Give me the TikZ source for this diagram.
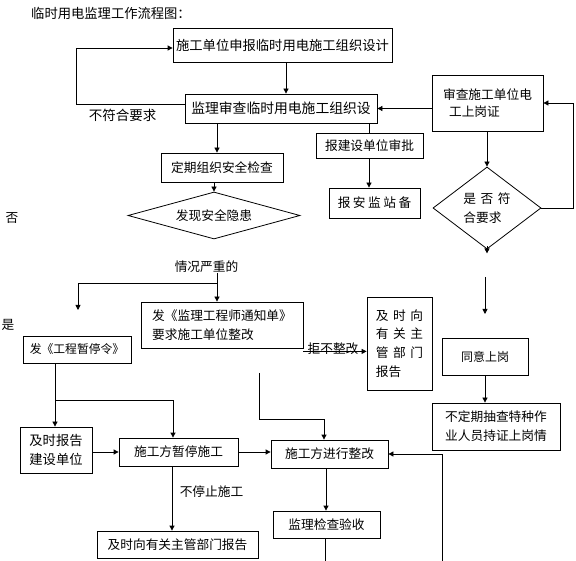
\documentclass[tikz,border=0pt]{standalone}
\usepackage{fontspec}
\setmainfont{Noto Sans CJK SC}
\usetikzlibrary{arrows.meta,shapes.geometric}
\newcommand\gp{\hspace{4.5pt}}
\begin{document}
\begin{tikzpicture}[x=1pt,y=-1pt,
  every node/.style={font=\fontsize{12.7}{17}\selectfont, inner sep=0pt},
  box/.style={draw, line width=0.8pt, align=center},
  dia/.style={draw, diamond, line width=0.8pt, align=left},
  arr/.style={line width=0.8pt, -{Triangle[length=5pt,width=5pt]}},
  ln/.style={line width=0.8pt}]
\useasboundingbox (0,0) rectangle (576,561);
\fill[white] (0,0) rectangle (576,561);
% title
\node[anchor=west, font=\fontsize{13.3}{16}\selectfont] (title) at (31,13) {临时用电监理工作流程图：};
% boxes
\node[box, minimum width=219, minimum height=34, font=\fontsize{13.3}{17}\selectfont] (b1) at (282.5,45) {施工单位申报临时用电施工组织设计};
\node[box, minimum width=192, minimum height=29, font=\fontsize{13.8}{17}\selectfont] (b2) at (281,108.5) {监理审查临时用电施工组织设};
\node[box, minimum width=122, minimum height=29] (b3) at (222,167.5) {定期组织安全检查};
\node[dia, minimum width=172, minimum height=47, aspect=3.66] (d1) at (214,215.5) {发现安全隐患};
\node[box, minimum width=107, minimum height=25] (b4) at (369.5,145.5) {报建设单位审批};
\node[box, minimum width=91, minimum height=30] (b5) at (374.5,203) {报\hspace{2.5pt}安\hspace{2.5pt}监\hspace{2.5pt}站\hspace{2.5pt}备};
\node[box, minimum width=111, minimum height=56, align=left] (b6) at (487.5,103) {审查施工单位电\\\hspace*{6pt}工上岗证};
\node[dia, minimum width=108, minimum height=82, aspect=1.3, font=\fontsize{12.7}{19}\selectfont] (d2) at (487,208) {是\gp{}否\gp{}符\\合要求};
\node[box, minimum width=162, minimum height=46, align=left, font=\fontsize{12.7}{19}\selectfont] (b7) at (222,325) {发《监理工程师通知单》\\要求施工单位整改};
\node[box, minimum width=65, minimum height=93, align=left, font=\fontsize{12.7}{18.7}\selectfont] (b8) at (399.5,343.5) {及\gp{}时\gp{}向\\有\gp{}关\gp{}主\\管\gp{}部\gp{}门\\报告};
\node[box, minimum width=86, minimum height=37, font=\fontsize{12}{17}\selectfont] (b9) at (485,356.5) {同意上岗};
\node[box, minimum width=128, minimum height=47, font=\fontsize{12.7}{19}\selectfont] (b10) at (496,426.5) {不定期抽查特种作\\业人员持证上岗情};
\node[box, minimum width=108, minimum height=27, font=\fontsize{11.8}{17}\selectfont] (b11) at (77,349.5) {发《工程暂停令》};
\node[box, minimum width=72, minimum height=46, font=\fontsize{13.3}{19}\selectfont] (b12) at (56,450) {及时报告\\建设单位};
\node[box, minimum width=119, minimum height=28] (b13) at (178.5,452) {施工方暂停施工};
\node[box, minimum width=117, minimum height=28] (b14) at (329.5,454) {施工方进行整改};
\node[box, minimum width=107, minimum height=27] (b15) at (326.5,524.5) {监理检查验收};
\node[box, minimum width=161, minimum height=27] (b16) at (177.5,544.5) {及时向有关主管部门报告};
% free labels
\node[font=\fontsize{13.5}{16}\selectfont] (l1) at (122.5,115) {不符合要求};
\node (l2) at (12,218) {否};
\node (l3) at (8,325) {是};
\node (l4) at (206.5,267) {情况严重的};
\node (l5) at (211.5,492) {不停止施工};
\node (l6) at (333,349) {拒不整改};
% coordinates
\coordinate (x286) at (286,0);
\coordinate (x217) at (217,0);
\coordinate (x369) at (369,0);
\coordinate (x55) at (55,0);
\coordinate (x173) at (173,0);
\coordinate (x172) at (172,0);
\coordinate (x324) at (324,0);
\coordinate (x326) at (326,0);
\coordinate (f1) at (485,277);
\coordinate (f2) at (485,314);
\coordinate (s1) at (217,273);
\coordinate (s2) at (217,283);
\coordinate (s3) at (78,310);
\coordinate (j1) at (55,400);
\coordinate (g1) at (259,373);
\coordinate (g2) at (259,419);
\coordinate (e1) at (325,561);
\coordinate (e2) at (442,561);
\coordinate (r1) at ([yshift=-3pt]b7.south east);
% connectors
\draw[arr] (b1.south -| x286) -- (b2.north -| x286);
\draw[arr] ([yshift=4.5pt]b2.west) -- ++(-108,0) |- ([yshift=-3pt]b1.west);
\draw[arr] (b2.south -| x217) -- (b3.north -| x217);
\draw[arr] (b3.south -| d1.north) -- (d1.north);
\draw[arr] (b6.west |- b2.east) -- (b2.east);
\draw[ln] (b2.south -| x369) -- (b4.north -| x369);
\draw[arr] (b4.south -| x369) -- (b5.north -| x369);
\draw[arr] (b6.south -| d2.north) -- (d2.north);
\draw[arr] (d2.east) -- ++(32,0) |- (b6.east);
\draw[arr] ([yshift=3pt]d2.south) -- ([yshift=-4pt]d2.south);
\draw[arr] (f1) -- (f2);
\draw[arr] (b9.south) -- (b10.north -| b9.south);
\draw[arr] (s1) -- (b7.north -| s1);
\draw[arr] (s2) -| (s3);
\draw[arr] (b11.south -| x55) -- (b12.north -| x55);
\draw[arr] (j1) -| (b13.north -| x173);
\draw[arr] (b12.east |- b13.west) -- (b13.west);
\draw[arr] (b13.east) -- (b14.west |- b13.east);
\draw[arr] (b13.south -| x172) -- (b16.north -| x172);
\draw[arr] (g1) -- (g2) -| (b14.north -| x324);
\draw[arr] (b14.south -| x326) -- (b15.north -| x326);
\draw[ln] (b15.south -| e1) -- (e1);
\draw[arr] (e2) |- (b14.east);
\draw[arr] (r1) -- (r1 -| b8.west);
\end{tikzpicture}
\end{document}
